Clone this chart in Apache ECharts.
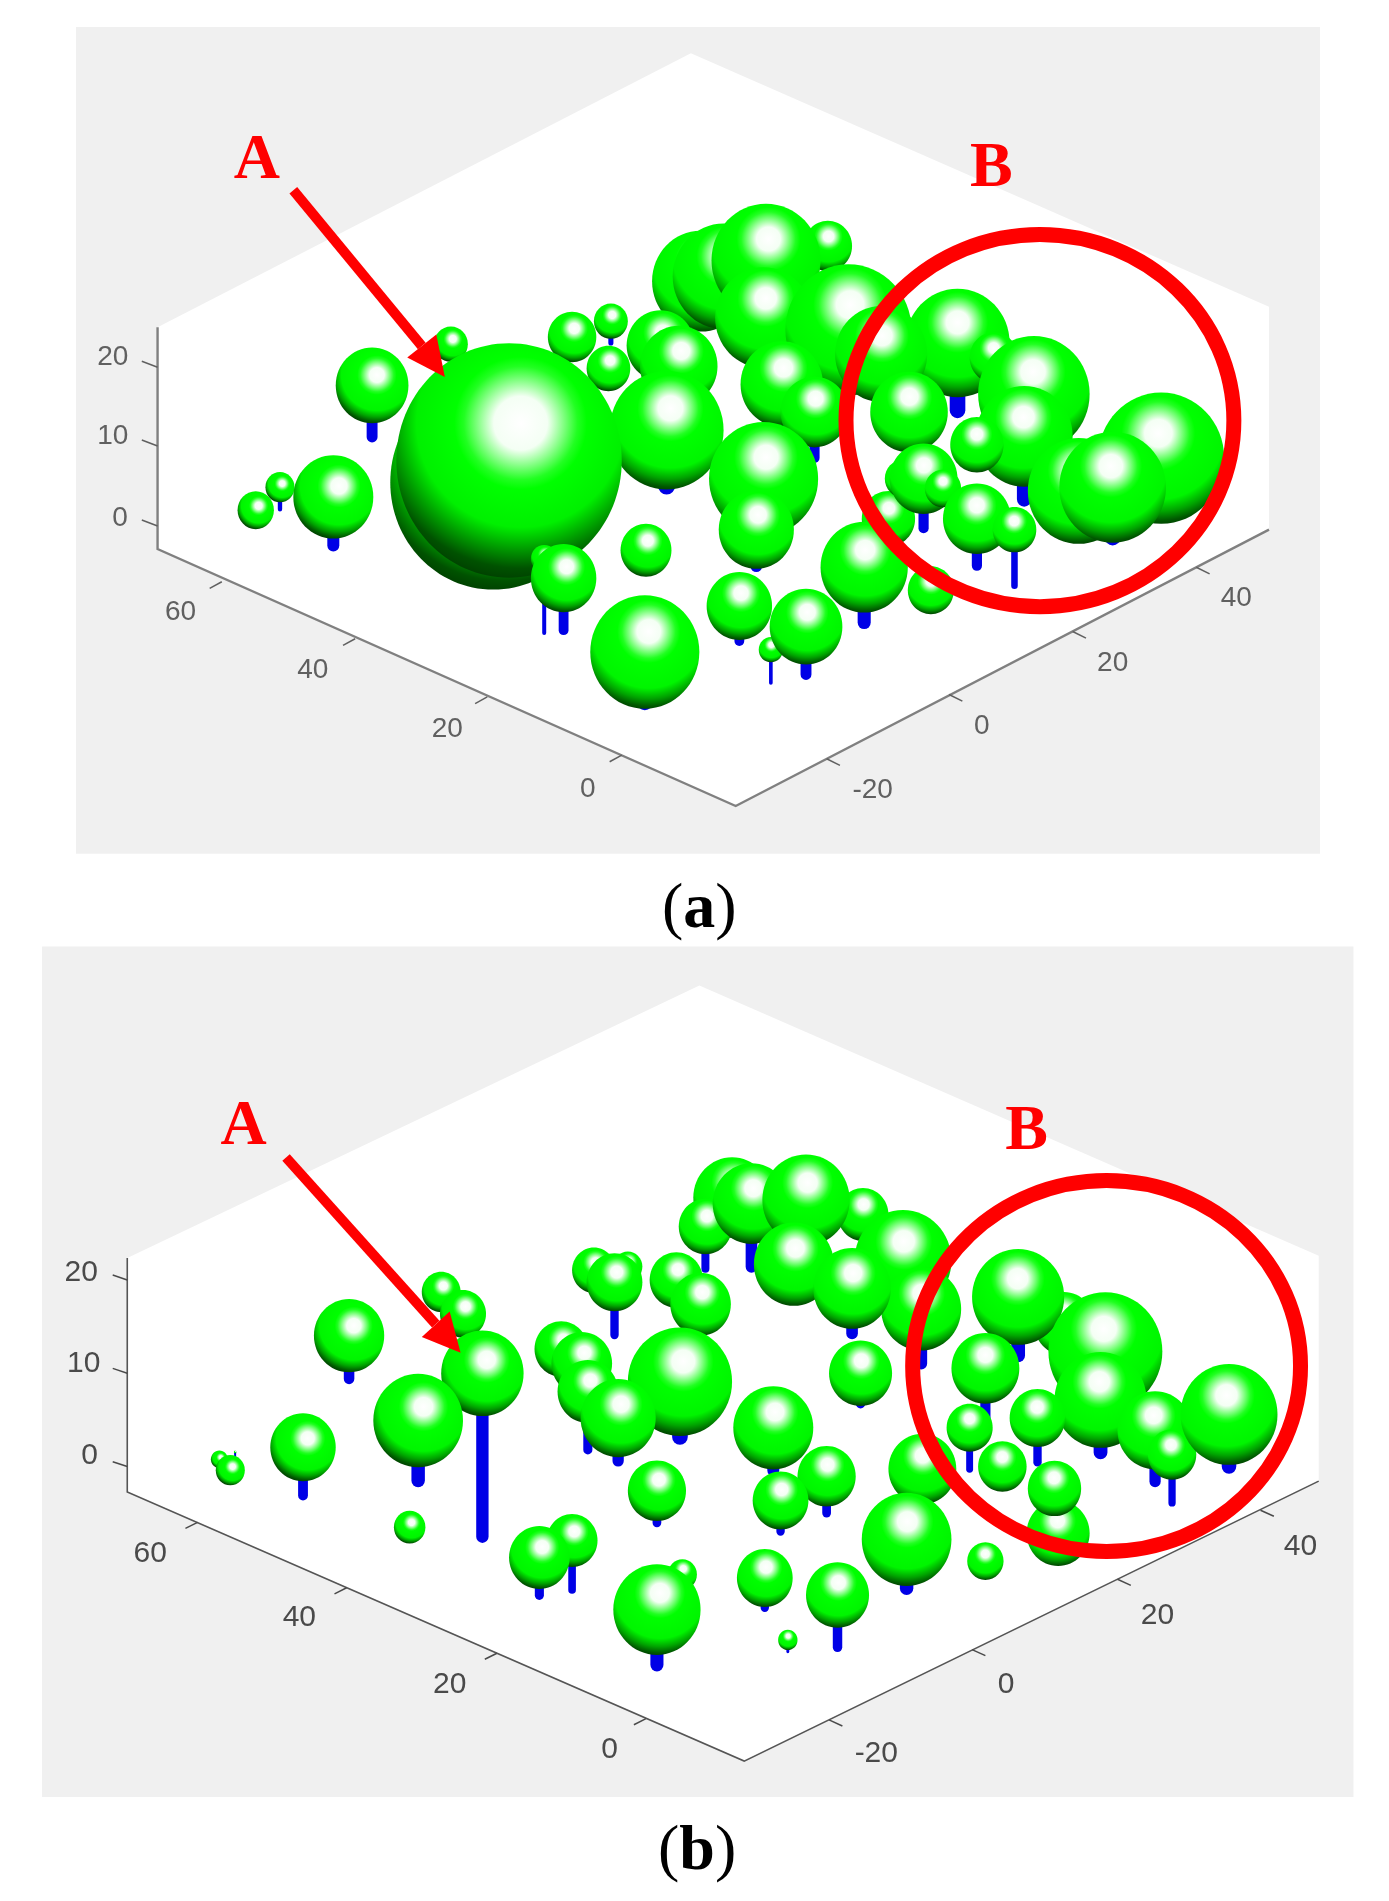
<!DOCTYPE html>
<html><head><meta charset="utf-8">
<style>html,body{margin:0;padding:0;background:#fff}#c{width:1389px;height:1901px}</style>
<script src="https://cdn.jsdelivr.net/npm/echarts@6/dist/echarts.min.js"></script>
</head><body><div id="c"></div>
<script>
// ----- panel (a): spheres, back to front, in projected plot units -----
const sphereXA=[578,683,597,632,630,700,504,472,372,545,502,560,307,790,820,727,645,672,853,750,550,845,806,958,407,420,231,275,211,890,918,630,624,733,745,762,778,806,837,449,465,533,532,610,636,665,768,713];
const sphereYA=[232,203,228,215,262,272,265,278,284,285,304,302,318,283,295,292,317,340,325,340,355,360,367,378,398,380,402,410,421,405,402,395,437,428,395,395,403,428,437,461,477,454,538,500,536,517,487,468];
const sphereRA=[40,20,42,45,40,52,14,20,14,28,18,32,30,43,20,38,34,28,46,32,47,40,22,52,85,93,12,33,15,42,44,45,31,22,15,28,15,28,18,11,27,21,45,27,10,30,19,36];
const stemEndA=[0,0,0,0,0,0,285,0,0,0,0,0,365,345,0,0,0,382,0,0,408,418,0,0,0,0,422,455,0,0,450,0,472,0,0,440,0,471,486,524,524,0,586,533,565,561,0,519];
// ----- panel (b) -----
const sphereXB=[604,582,620,712,665,655,745,760,703,518,490,507,558,578,364,382,288,463,480,485,561,510,878,840,912,813,710,398,345,638,908,856,800,953,967,1014,250,181,194,190,682,644,542,761,827,873,870,748,813,338,472,445,563,542,631,691,650];
const sphereYB=[988,1012,993,1002,990,1043,1040,1080,1063,1045,1048,1058,1056,1076,1066,1084,1102,1113,1125,1148,1140,1170,1092,1070,1115,1129,1133,1133,1172,1178,1155,1170,1178,1180,1200,1167,1194,1204,1198,1213,1218,1238,1230,1212,1210,1265,1228,1270,1288,1260,1271,1285,1299,1328,1302,1316,1353];
const sphereRB=[32,22,32,21,36,33,40,33,32,12,18,23,22,25,16,19,29,22,25,25,43,31,25,38,47,28,26,34,37,33,38,23,19,31,20,40,27,7,1,12,24,23,24,28,20,26,22,37,15,13,21,25,12,36,23,26,8];
const stemEndB=[0,1050,1050,0,0,0,0,1130,1105,0,0,1105,0,0,0,0,1142,0,0,1200,1192,1210,0,1124,0,1175,1162,1273,1227,1218,1204,1210,1215,1227,1243,1216,1238,0,1207,0,1252,1267,1260,0,0,0,0,1316,0,0,1315,1320,0,1379,1330,1363,1364];
// ----- axis tick labels -----
const tickLabels=['20','10','0','60','40','20','0','-20','0','20','40'];
const labelXA=[93,93,99,149,258,369,485,720,810,918,1020];
const labelYA=[295,360,428,505,553,602,651,652,599,547,494];
const tickXA=[130,130,130,183,293,402,513,682,783,885,987];
const tickYA=[303,368,434,480,527,575,623,626,573,521,468];
const labelXB=[67,69,74,124,247,371,503,723,830,955,1073];
const labelYB=[1050,1125,1201,1282,1335,1390,1444,1447,1390,1333,1276];
const tickXB=[105,105,105,163,286,410,533,684,802,922,1040];
const tickYB=[1056,1133,1210,1256,1310,1364,1418,1419,1361,1303,1246];
// ----- box outline: floor and walls -----
const boxXA=[570,130,130,607,1047,1047];
const boxYA=[44,270,453,665,437,253];
const boxXB=[577,105,105,614,1088,1088];
const boxYB=[813,1038,1231,1453,1222,1036];
// ----- annotations -----
const letters=['A','B'];
const letterXA=[212,818], letterYA=[133,140];
const letterXB=[201,847], letterYB=[930,934];
const ringA=[858,347,160,153.5], ringB=[913,1127,160,153];
const arrowA=[242,157,367,311,360,276,336,295];
const arrowB=[236,955,380,1116,371,1082,348,1103];
const captions=['a','b'];

const S=1389/1146;
const ranges=[{x:[62.7,1089.1],y:[22.3,704.4]},{x:[34.7,1116.7],y:[781,1482.6]}];
const grids=ranges.map(r=>({left:r.x[0]*S,width:(r.x[1]-r.x[0])*S,top:r.y[0]*S,height:(r.y[1]-r.y[0])*S,
  show:true,backgroundColor:'#f0f0f0',borderWidth:0}));
const xAxes=ranges.map((r,i)=>({type:'value',gridIndex:i,min:r.x[0],max:r.x[1],show:false}));
const yAxes=ranges.map((r,i)=>({type:'value',gridIndex:i,min:r.y[0],max:r.y[1],inverse:true,show:false}));
const on=(i)=>({coordinateSystem:'cartesian2d',xAxisIndex:i,yAxisIndex:i,clip:false,silent:true,animation:false});

function boxSeries(i,bx,by){
  const rows=bx.map((x,k)=>[x,by[k]]);
  return Object.assign(on(i),{type:'custom',z:1,data:[0],renderItem(p,api){
    const pts=rows.map(r=>api.coord(r));
    return {type:'group',children:[
      {type:'polygon',shape:{points:pts},style:{fill:'#ffffff'}},
      {type:'polyline',shape:{points:[pts[1],pts[2],pts[3],pts[4]]},style:{fill:null,stroke:i?'#555555':'#808080',lineWidth:i?1.6:2.4}}
    ]};
  }});
}
function tickSeries(i,tx,ty,lx,ly,vecs,fontSize,color){
  const rows=tx.map((x,k)=>[x,ty[k],lx[k],ly[k]]);
  return Object.assign(on(i),{type:'custom',z:2,data:rows,encode:{x:0,y:1},renderItem(p,api){
    const k=p.dataIndex, v=vecs[k<3?0:k<7?1:2];
    const a=api.coord([api.value(0),api.value(1)]);
    const b=api.coord([api.value(0)+v[0],api.value(1)+v[1]]);
    const c=api.coord([api.value(2),api.value(3)]);
    return {type:'group',children:[
      {type:'line',shape:{x1:a[0],y1:a[1],x2:b[0],y2:b[1]},style:{stroke:color,lineWidth:1.5}},
      {type:'text',style:{text:tickLabels[k],x:c[0],y:c[1],align:'center',verticalAlign:'middle',
        font:fontSize+'px "Liberation Sans"',fill:color}}
    ]};
  }});
}
function sphereSeries(i,xs,ys,rs,ends){
  const rows=xs.map((x,k)=>[x,ys[k],rs[k],ends[k]]);
  const xr=ranges[i].x;
  return Object.assign(on(i),{type:'custom',z:3,data:rows,encode:{x:0,y:1},renderItem(p,api){
    const c=api.coord([api.value(0),api.value(1)]);
    const sz=api.size([api.value(2),api.value(2)]);
    const r=sz[0], end=api.value(3), kids=[];
    if(end>0){
      const e=api.coord([api.value(0),end]);
      const w=Math.max(2,r*0.3);
      kids.push({type:'rect',shape:{x:c[0]-w/2,y:c[1],width:w,height:e[1]-c[1],r:[0,0,w/2,w/2]},style:{fill:'#0000e6'}});
    }
    // the light sits up and to the right of spheres on the left of the box, nearer the crown on the right
    const t=(api.value(0)-xr[0])/(xr[1]-xr[0]);
    const hx=0.6-0.14*t, hy=0.41-0.1*Math.min(1,t*2);
    const big=r>90;
    kids.push({type:'ellipse',shape:{cx:c[0],cy:c[1],rx:r,ry:r*1.04},style:{fill:{
      type:'radial',x:hx,y:hy,r:1-hy+0.04,
      colorStops:(big?[
        {offset:0,color:'#ffffff'},{offset:0.17,color:'#f4fff4'},{offset:0.36,color:'#22ff22'},
        {offset:0.42,color:'#00ff00'},{offset:0.66,color:'#00f000'},{offset:0.8,color:'#009a00'},{offset:0.92,color:'#005200'},{offset:1,color:'#004000'}
      ]:[
        {offset:0,color:'#ffffff'},{offset:0.15,color:'#f4fff4'},{offset:0.34,color:'#22ff22'},
        {offset:0.4,color:'#00ff00'},{offset:0.72,color:'#00f500'},{offset:0.85,color:'#00a400'},{offset:0.95,color:'#005800'},{offset:1,color:'#004000'}
      ]),global:false}}});
    return {type:'group',children:kids};
  }});
}
function annotationSeries(i,lx,ly,ring,arrow){
  return Object.assign(on(i),{type:'custom',z:5,data:[0],renderItem(p,api){
    const rc=api.coord([ring[0],ring[1]]), rs=api.size([ring[2],ring[3]]);
    const s=api.coord([arrow[0],arrow[1]]), t=api.coord([arrow[2],arrow[3]]);
    const h1=api.coord([arrow[4],arrow[5]]), h2=api.coord([arrow[6],arrow[7]]);
    const m=[(h1[0]+h2[0])/2,(h1[1]+h2[1])/2];
    const kids=[
      {type:'ellipse',shape:{cx:rc[0],cy:rc[1],rx:rs[0],ry:rs[1]},style:{fill:null,stroke:'#ff0000',lineWidth:15}},
      {type:'line',shape:{x1:s[0],y1:s[1],x2:m[0],y2:m[1]},style:{stroke:'#ff0000',lineWidth:10}},
      {type:'polygon',shape:{points:[t,h1,h2]},style:{fill:'#ff0000'}}
    ];
    letters.forEach((l,k)=>{
      const q=api.coord([lx[k],ly[k]]);
      kids.push({type:'text',style:{text:l,x:q[0],y:q[1],align:'center',verticalAlign:'middle',
        font:'bold 64px "Liberation Serif"',fill:'#ff0000'}});
    });
    return {type:'group',children:kids};
  }});
}
const capStyle={rich:{p:{font:'64px "Liberation Serif"',fill:'#000'},b:{font:'bold 64px "Liberation Serif"',fill:'#000'}}};
const chart=echarts.init(document.getElementById('c'),null,{renderer:'canvas',width:1389,height:1901});
chart.setOption({
  backgroundColor:'#ffffff',animation:false,
  grid:grids,xAxis:xAxes,yAxis:yAxes,
  graphic:[
    {type:'text',left:662,top:878,style:Object.assign({text:'{p|(}{b|'+captions[0]+'}{p|)}'},capStyle)},
    {type:'text',left:658,top:1820,style:Object.assign({text:'{p|(}{b|'+captions[1]+'}{p|)}'},capStyle)}
  ],
  series:[
    boxSeries(0,boxXA,boxYA),
    tickSeries(0,tickXA,tickYA,labelXA,labelYA,[[-13,-5],[-10,5.5],[11,5.5]],28,'#606060'),
    sphereSeries(0,sphereXA,sphereYA,sphereRA,stemEndA),
    annotationSeries(0,letterXA,letterYA,ringA,arrowA),
    boxSeries(1,boxXB,boxYB),
    tickSeries(1,tickXB,tickYB,labelXB,labelYB,[[-12,-4],[-10,5],[11,5]],30,'#4a4a4a'),
    sphereSeries(1,sphereXB,sphereYB,sphereRB,stemEndB),
    annotationSeries(1,letterXB,letterYB,ringB,arrowB)
  ]
});
</script></body></html>
